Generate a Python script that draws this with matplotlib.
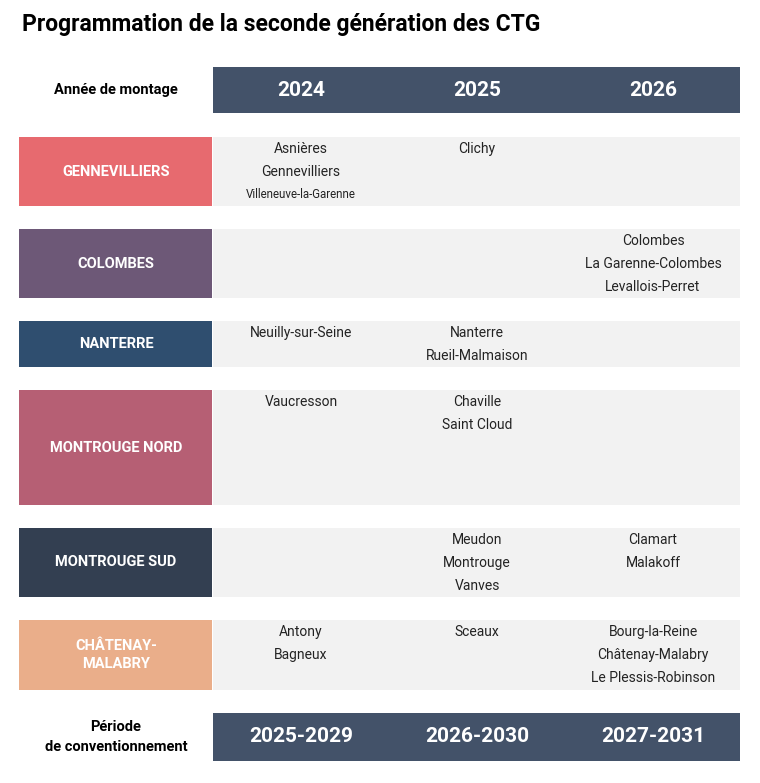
import matplotlib.pyplot as plt
from matplotlib.patches import Rectangle

title = "Programmation de la seconde génération des CTG"
years = ["2024", "2025", "2026"]
periods = ["2025-2029", "2026-2030", "2027-2031"]
regions = ["GENNEVILLIERS", "COLOMBES", "NANTERRE", "MONTROUGE NORD",
           "MONTROUGE SUD", "CHÂTENAY-\nMALABRY"]
region_colors = ["#e76a6f", "#6d5877", "#2f4e6f", "#b65f74", "#333f51", "#eaae8a"]
communes = [
    [["Asnières", "Gennevilliers", "Villeneuve-la-Garenne"], ["Clichy"], []],
    [[], [], ["Colombes", "La Garenne-Colombes", "Levallois-Perret"]],
    [["Neuilly-sur-Seine"], ["Nanterre", "Rueil-Malmaison"], []],
    [["Vaucresson"], ["Chaville", "Saint Cloud"], []],
    [[], ["Meudon", "Montrouge", "Vanves"], ["Clamart", "Malakoff"]],
    [["Antony", "Bagneux"], ["Sceaux"], ["Bourg-la-Reine", "Châtenay-Malabry", "Le Plessis-Robinson"]],
]
# row vertical extents in pixels (top, bottom)
row_spans = [(137, 206), (229, 298), (321, 367), (390, 505), (528, 597), (620, 690)]

plt.rcParams["font.family"] = "Roboto"
fig = plt.figure(figsize=(7.6, 7.83), dpi=100)
ax = fig.add_axes([0, 0, 1, 1])
ax.set_xlim(0, 760)
ax.set_ylim(783, 0)
ax.axis("off")

header_col = "#435269"
col_x = [301, 477, 653]

ax.text(22, 25, title, fontsize=16.5, fontweight="bold", va="center", ha="left")

# header
ax.add_patch(Rectangle((213, 67), 527, 46, color=header_col, lw=0))
ax.text(116, 90, "Année de montage", fontsize=10.5, fontweight="bold", ha="center", va="center")
for x, y in zip(col_x, years):
    ax.text(x, 90, y, fontsize=15, fontweight="bold", color="white", ha="center", va="center")

# rows
for name, c, (t, b), cells in zip(regions, region_colors, row_spans, communes):
    ax.add_patch(Rectangle((19, t), 193, b - t, color=c, lw=0))
    ax.add_patch(Rectangle((213, t), 527, b - t, color="#f2f2f2", lw=0))
    ax.text(116, (t + b) / 2, name, fontsize=10.5, fontweight="bold", color="white",
            ha="center", va="center", linespacing=1.4)
    for x, lines in zip(col_x, cells):
        for i, s in enumerate(lines):
            fs = 8.3 if len(s) > 20 and x < 400 else 10
            ax.text(x, t + 12 + 23 * i, s, fontsize=fs, ha="center", va="center", color="#222222")

# footer
ax.add_patch(Rectangle((213, 713), 527, 48, color=header_col, lw=0))
ax.text(116, 737, "Période\nde conventionnement", fontsize=10.5, fontweight="bold",
        ha="center", va="center", linespacing=1.5)
for x, p in zip(col_x, periods):
    ax.text(x, 737, p, fontsize=15, fontweight="bold", color="white", ha="center", va="center")

fig.savefig("out.png", dpi=100, facecolor="white")
